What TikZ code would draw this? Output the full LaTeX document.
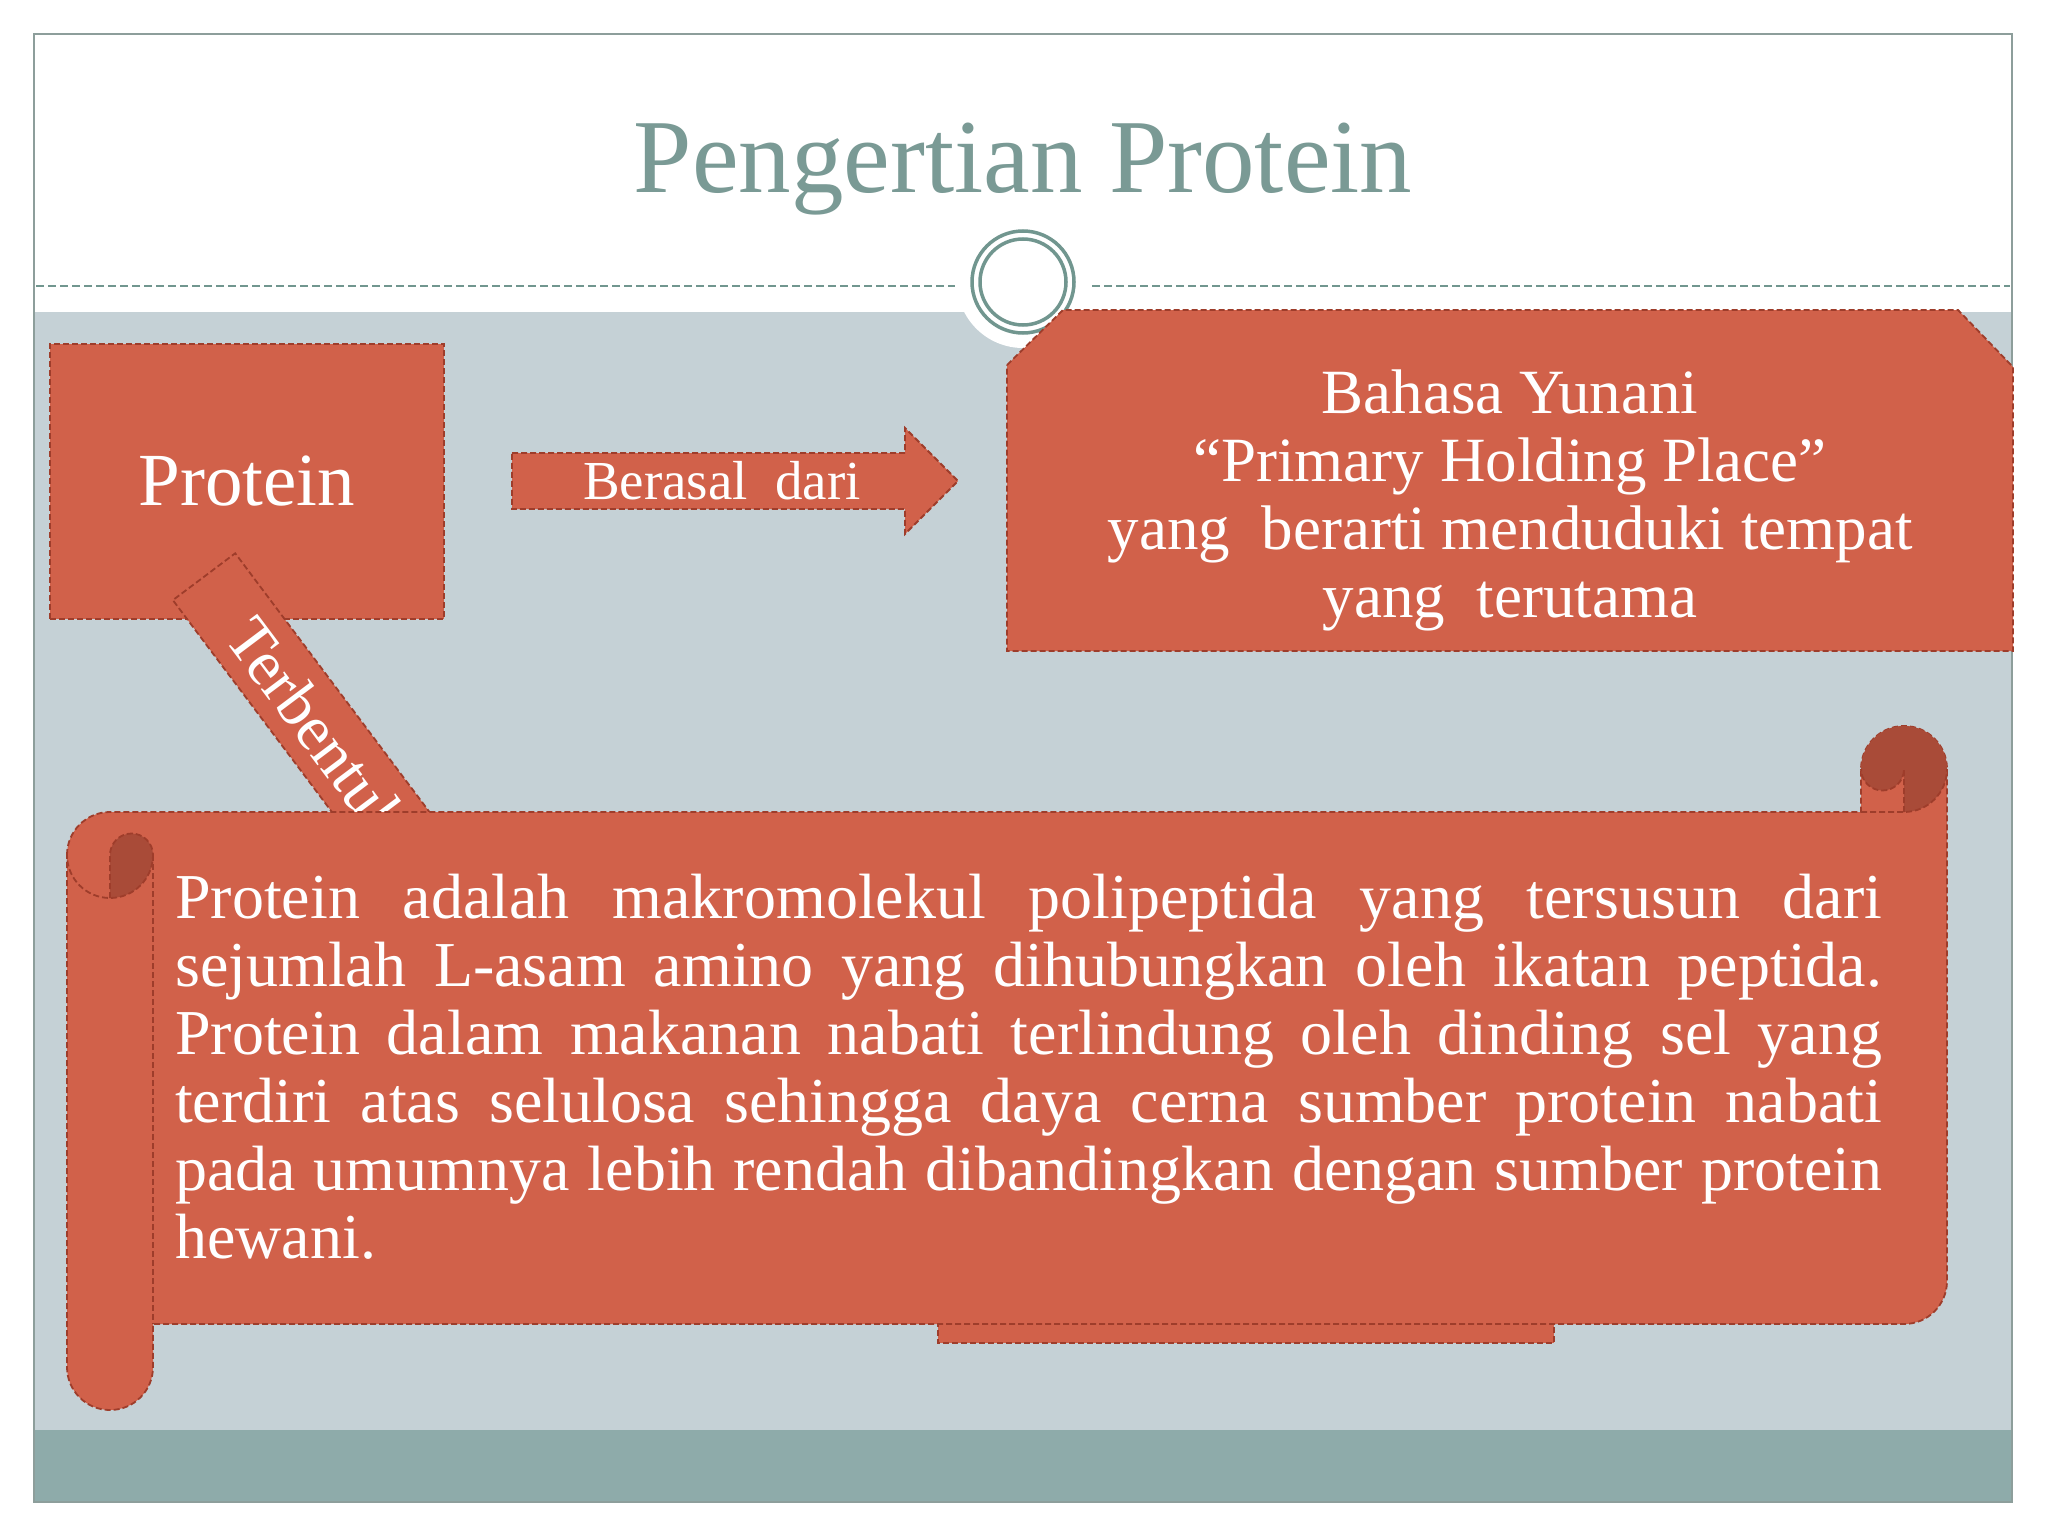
\documentclass[tikz,border=0pt]{standalone}
\usepackage{fontspec}
\setmainfont{Liberation Serif}
\definecolor{bodybg}{HTML}{C5D1D6}
\definecolor{footbg}{HTML}{8EABAA}
\definecolor{framec}{HTML}{8D9E9B}
\definecolor{titlec}{HTML}{7A9A95}
\definecolor{ringc}{HTML}{71968F}
\definecolor{orangef}{HTML}{D1614A}
\definecolor{orangedark}{HTML}{A94B38}
\definecolor{edgec}{HTML}{9E3D2B}
\tikzset{
  shapeedge/.style={draw=edgec, line width=1.8pt, dash pattern=on 6pt off 3pt},
  orangebox/.style={fill=orangef, shapeedge},
  wtext/.style={text=white, inner sep=0pt},
  bodytext/.style={wtext, font=\fontsize{64}{68}\selectfont},
  boxtext/.style={wtext, font=\fontsize{63}{68}\selectfont, anchor=base},
  headline/.style={draw=ringc, line width=2pt, dash pattern=on 8pt off 4pt},
  ring/.style={draw=ringc, line width=3.5pt},
}
\begin{document}
\begin{tikzpicture}[x=1pt,y=-1pt]
\useasboundingbox (0,0) rectangle (2048,1536);
\fill[white] (0,0) rectangle (2048,1536);
% slide background
\fill[bodybg] (34,312) rectangle (2012,1430);
\fill[footbg] (34,1430) rectangle (2012,1502);
\draw[framec, line width=2.5pt] (34,34) rectangle (2012,1502);
\draw[headline] (36,286) -- (955,286);
\draw[headline] (1092,286) -- (2010,286);
\fill[white] (1023,282) circle (66pt);
\draw[ring] (1023,282) circle (51pt);
\draw[ring] (1023,282) circle (43pt);
% title
\node[text=titlec, inner sep=0pt, anchor=base, font=\fontsize{105}{105}\selectfont] (title) at (1023,192) {Pengertian Protein};
% Protein box
\node[orangebox, wtext, anchor=north west, minimum width=394pt, minimum height=275pt, font=\fontsize{75}{75}\selectfont] (protein) at (49,343) {Protein};
% Terbentuk band
\node[orangebox, wtext, rotate=-53.1, anchor=west, minimum width=380pt, minimum height=78pt, font=\fontsize{64}{64}\selectfont] (terbentuk) at (203.5,576) {Terbentuk};
% arrow Berasal dari
\draw[orangebox] (512,453) -- (905,453) -- (905,428) -- (958,481) -- (905,534) -- (905,509) -- (512,509) -- cycle;
\node[wtext, anchor=base, font=\fontsize{55}{55}\selectfont] (berasal) at (722,499) {Berasal\ \ dari};
% Bahasa Yunani box
\draw[orangebox] (1007,365) -- (1063,310) -- (1958,310) -- (2013,367) -- (2013,651) -- (1007,651) -- cycle;
\node[boxtext] (b1) at (1510,413) {Bahasa Yunani};
\node[boxtext] (b2) at (1510,481) {“Primary Holding Place”};
\node[boxtext] (b3) at (1510,549) {yang\ \ berarti menduduki tempat};
\node[boxtext] (b4) at (1510,617) {yang\ \ terutama};
% hidden rectangle behind the scroll
\draw[orangebox] (938,1240) rectangle (1554,1343);
% scroll
\draw[orangebox] (67,855) arc[start angle=180, delta angle=90, radius=43]
  -- (1861,812) -- (1861,769) arc[start angle=180, delta angle=180, radius=43]
  -- (1947,1281) arc[start angle=0, delta angle=90, radius=43]
  -- (153,1324) -- (153,1367) arc[start angle=0, delta angle=180, radius=43]
  -- cycle;
\fill[orangedark] (1904,812) arc[start angle=90, delta angle=-270, radius=43]
  arc[start angle=180, delta angle=-180, radius=21.5] -- cycle;
\fill[orangedark] (110,898) arc[start angle=90, delta angle=-90, radius=43]
  arc[start angle=0, delta angle=-180, radius=21.5] -- cycle;
\draw[shapeedge] (1861,812) -- (1904,812) arc[start angle=90, delta angle=-90, radius=43];
\draw[shapeedge] (1904,812) -- (1904,769) arc[start angle=0, delta angle=180, radius=21.5];
\draw[shapeedge] (110,898) -- (110,855) arc[start angle=180, delta angle=180, radius=21.5]
  arc[start angle=0, delta angle=180, radius=43];
\draw[shapeedge] (153,855) -- (153,1324);
% paragraph
\foreach \ln [count=\i] in {
  {Protein adalah makromolekul polipeptida yang tersusun dari},
  {sejumlah L-asam amino yang dihubungkan oleh ikatan peptida.},
  {Protein dalam makanan nabati terlindung oleh dinding sel yang},
  {terdiri atas selulosa sehingga daya cerna sumber protein nabati},
  {pada umumnya lebih rendah dibandingkan dengan sumber protein}} {
  \node[bodytext, anchor=base west] (par\i) at (175,{918+68*(\i-1)}) {\makebox[1707pt][s]{\ln}};
}
\node[bodytext, anchor=base west] (par6) at (175,1258) {hewani.};
\end{tikzpicture}
\end{document}
